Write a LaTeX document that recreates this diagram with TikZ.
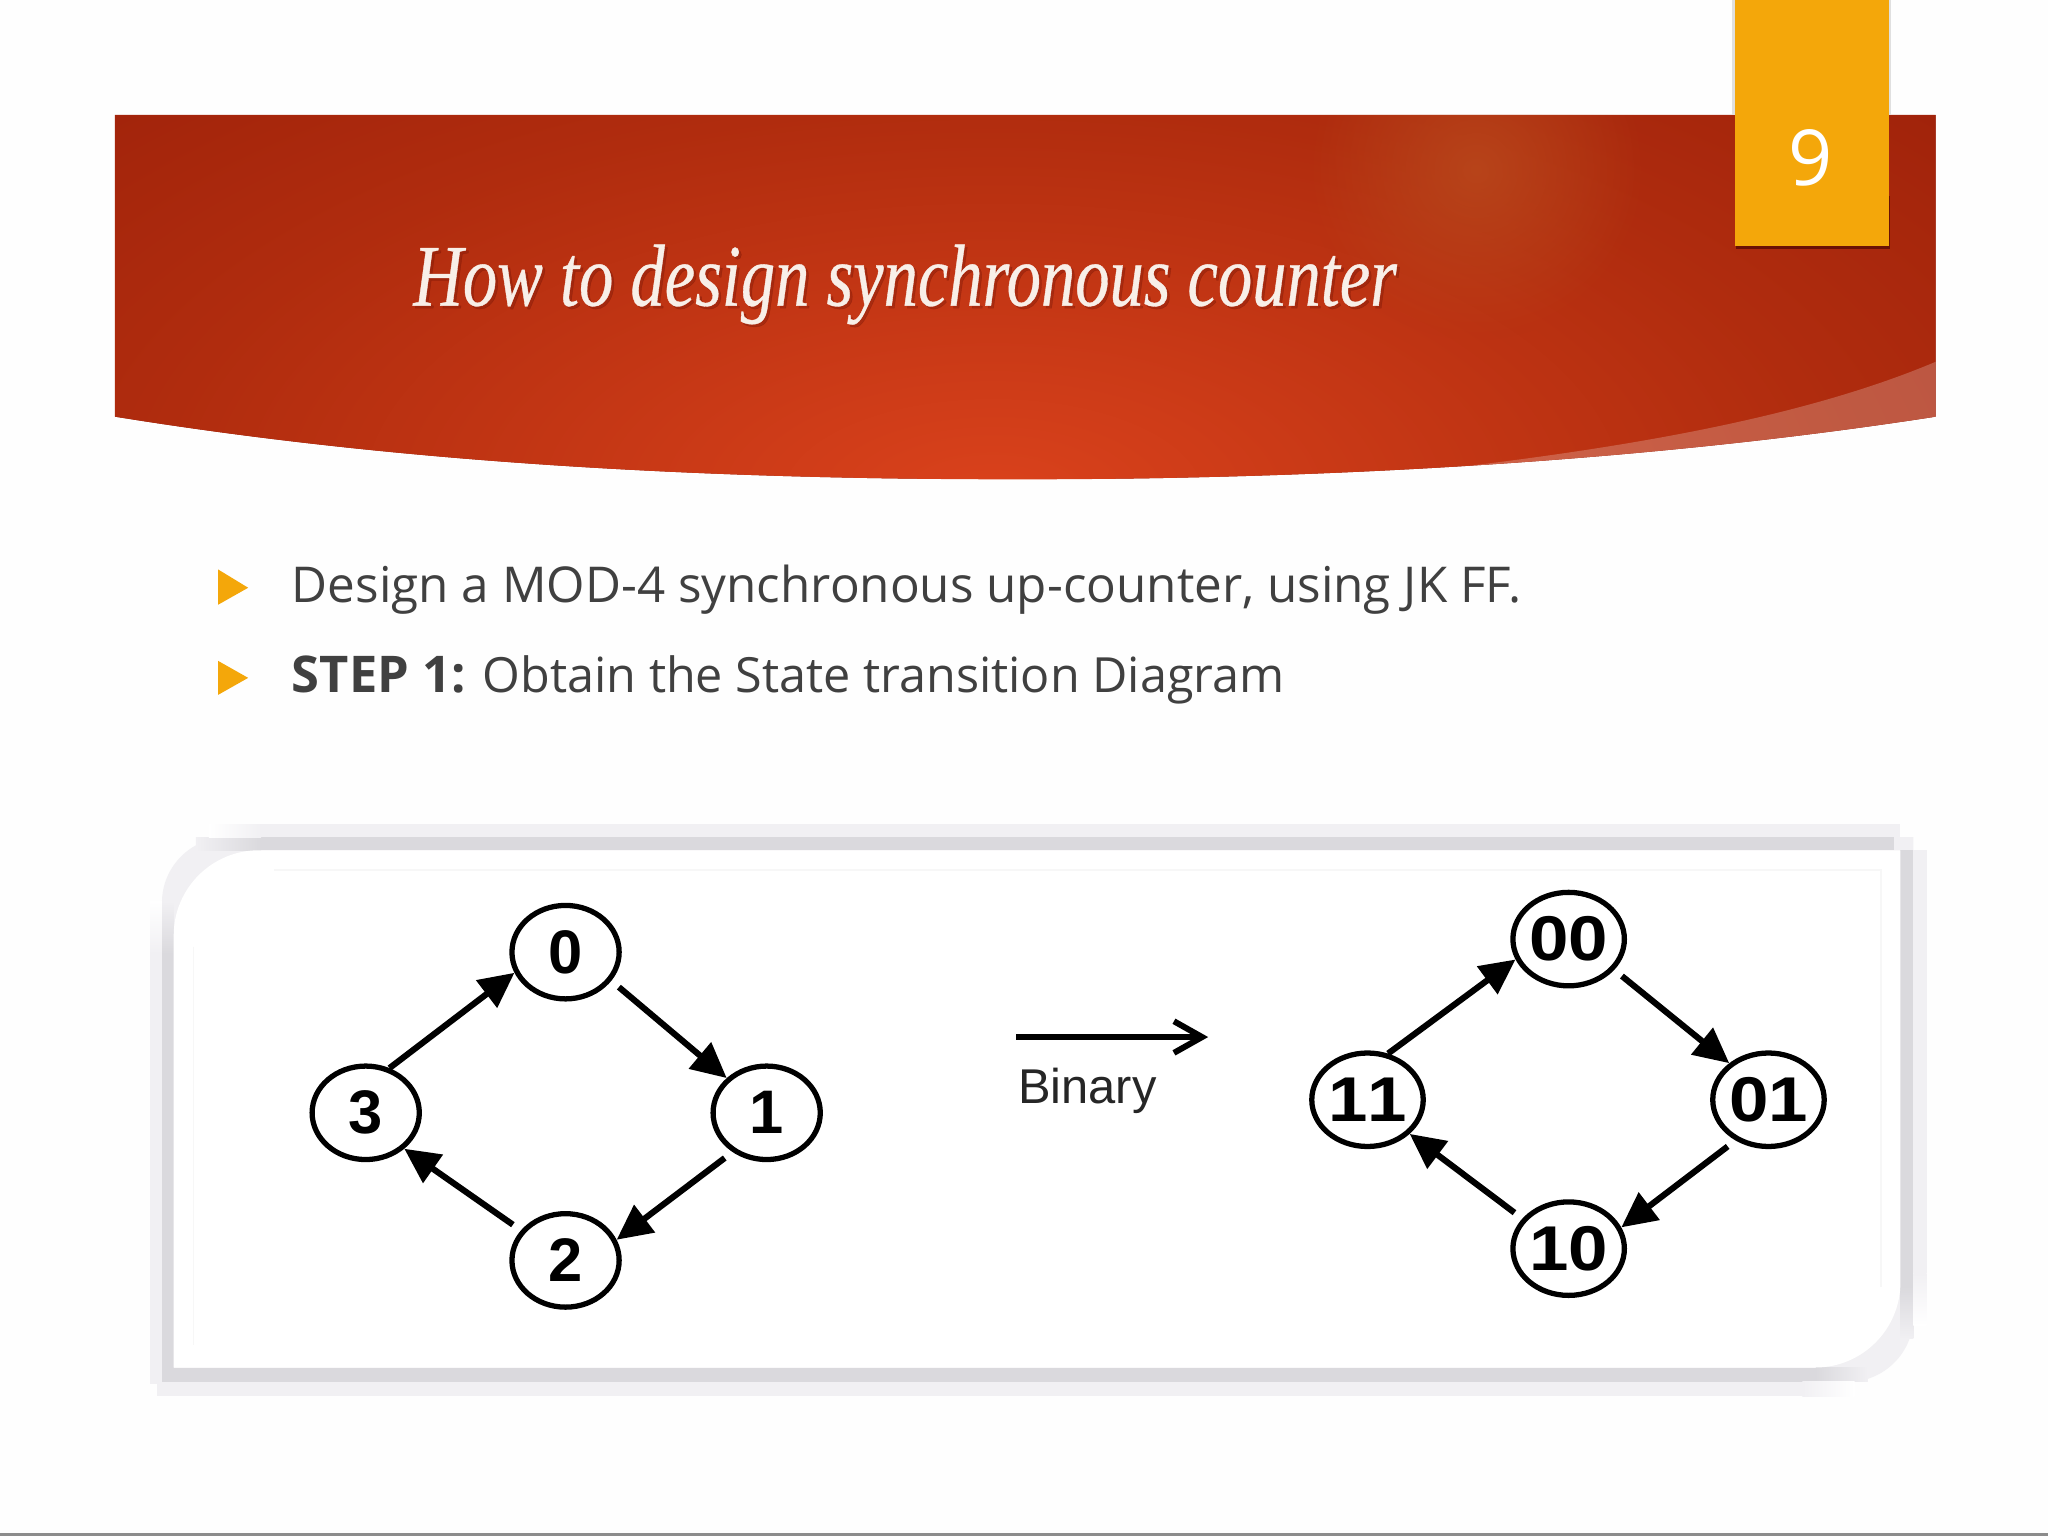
\documentclass[tikz,border=0pt]{standalone}
\usepackage{fontspec}
\setmainfont{Open Sans}
\newfontfamily\titlefont[FakeStretch=0.78,FakeBold=0.4]{Liberation Serif}
\newfontfamily\diagfont{Liberation Sans}
\newfontfamily\widefont[FakeStretch=1.12,Kerning=Off]{Liberation Sans}
\usetikzlibrary{shapes.geometric,arrows.meta,fadings}
\definecolor{bodytext}{HTML}{404040}
\definecolor{accent}{HTML}{F4A70A}
\definecolor{darkred}{HTML}{8E1807}
\definecolor{midred}{HTML}{B02C0E}
\definecolor{hotred}{HTML}{DA421C}
\definecolor{glow}{HTML}{B9481C}
\definecolor{bandlight}{HTML}{F1F0F3}
\definecolor{banddark}{HTML}{DAD9DD}
\definecolor{pagebg}{HTML}{FEFEFE}
\definecolor{tabshadow}{HTML}{6A1005}
\definecolor{titleink}{HTML}{F8EFE8}
\definecolor{titleshade}{HTML}{6A1005}
\pgfdeclareradialshading{bannerglow}{\pgfpoint{0bp}{0bp}}{
  color(0bp)=(hotred);
  color(11bp)=(midred);
  color(23bp)=(darkred);
  color(50bp)=(darkred)}
\tikzfading[name=softglow, inner color=transparent!0, outer color=transparent!100]
\newcommand{\cardpath}[5]{(#1,#4) -- (#1,#2+#5) .. controls (#1,#2+0.45*#5) and (#1+0.45*#5,#2) .. (#1+#5,#2) -- (#3,#2) -- (#3,#4-#5) .. controls (#3,#4-0.45*#5) and (#3-0.45*#5,#4) .. (#3-#5,#4) -- cycle}
\newcommand{\bannerpath}{(88,88) -- (1482,88) -- (1482,319) .. controls (1250,355) and (1000,367) .. (780,367) .. controls (500,367) and (280,350) .. (88,319) -- cycle}
\tikzset{
  x=0.0130612cm, y=-0.0130612cm,
  statenode/.style={ellipse, draw=black, line width=1.5pt, fill=white, minimum width=30.5pt, minimum height=26.6pt, inner sep=0pt, font=\diagfont\bfseries\fontsize{17.5}{20}\selectfont},
  widenode/.style={statenode, font=\widefont\bfseries\fontsize{18}{20}\selectfont},
  flow/.style={line width=1.75pt, -{Triangle[length=10pt,width=9.5pt]}},
  gapflow/.style={flow, shorten <=2.8pt},
  bodyline/.style={anchor=base west, inner sep=0pt, text=bodytext, font=\fontsize{14.05}{17}\selectfont},
  bullet/.style={fill=accent},
}
\begin{document}
\begin{tikzpicture}
\useasboundingbox (0,0) rectangle (1568,1176);
\fill[pagebg] (0,0) rectangle (1568,1176);
\fill[black!45] (0,1174) rectangle (1568,1176);
% banner
\begin{scope}
  \clip \bannerpath;
  \fill[darkred] (88,88) rectangle (1482,367);
  \shade[shading=bannerglow] (-700,-300) rectangle (2220,1060);
  \fill[glow, path fading=softglow, opacity=0.85] (1000,0) rectangle (1260,260);
  \fill[white, opacity=0.22] (1482,277) .. controls (1380,320) and (1240,345) .. (1060,364) -- (1060,400) -- (1482,400) -- cycle;
\end{scope}
% tab
\fill[tabshadow] (1329,150) rectangle (1447,191);
\fill[black!12] (1326,0) rectangle (1328,88);
\fill[black!12] (1446,0) rectangle (1448,88);
\fill[accent] (1328,0) rectangle (1446,188);
\node[text=white, inner sep=0pt, font=\fontsize{22}{26}\selectfont] (pagenum) at (1386,121) {9};
% title
\node[anchor=base west, inner sep=0pt, text=titleshade, opacity=0.3, font=\titlefont\itshape\fontsize{25}{28}\selectfont] (titleshadow) at (318,236) {How to design synchronous counter};
\node[anchor=base west, inner sep=0pt, text=titleink, font=\titlefont\itshape\fontsize{25}{28}\selectfont] (title) at (316,234) {How to design synchronous counter};
% bullets
\fill[bullet] (167,436) -- (190,450) -- (167,463) -- cycle;
\fill[bullet] (167,506) -- (190,519) -- (167,532) -- cycle;
\node[bodyline] (line1) at (223,461) {Design a MOD-4 synchronous up-counter, using JK FF.};
\node[bodyline] (line2) at (223,530) {{\fontsize{14.4}{17}\selectfont\textbf{STEP 1:}} {\fontsize{13.8}{17}\selectfont Obtain the State transition Diagram}};
% card shadow
\fill[bandlight] \cardpath{124}{641}{1465}{1058}{50};
\fill[bandlight] (200,631) rectangle (1455,641);
\fill[banddark] (200,641) rectangle (1450,651);
\shade[left color=bandlight, right color=banddark] (150,641) rectangle (200,651);
\shade[left color=white, right color=bandlight] (160,631) rectangle (200,641);
\fill[bandlight] (115,730) rectangle (124,1060);
\fill[banddark] (124,730) rectangle (133,1058);
\shade[top color=bandlight, bottom color=banddark] (124,690) rectangle (133,730);
\shade[top color=white, bottom color=bandlight] (115,690) rectangle (124,730);
\fill[banddark] (133,1047) rectangle (1390,1058);
\fill[bandlight] (120,1058) rectangle (1380,1069);
\shade[left color=banddark, right color=bandlight] (1390,1047) rectangle (1430,1058);
\shade[left color=bandlight, right color=white] (1380,1058) rectangle (1420,1069);
\fill[banddark] (1455,651) rectangle (1465,985);
\fill[bandlight] (1465,651) rectangle (1475,975);
\shade[top color=banddark, bottom color=bandlight] (1455,985) rectangle (1465,1025);
\shade[top color=bandlight, bottom color=white] (1465,975) rectangle (1475,1015);
\fill[white] \cardpath{133}{651}{1455}{1047}{65};
\draw[black!3, line width=0.4pt] (148,725) -- (148,1030);
\draw[black!3, line width=0.4pt] (210,666) -- (1440,666) -- (1440,985);
% left diagram
\node[statenode] (n0) at (433,729) {0};
\node[statenode] (n1) at (587,852) {1};
\node[statenode] (n2) at (433,965) {2};
\node[statenode] (n3) at (280,852) {3};
\draw[flow] (n3.62) -- (n0.202);
\draw[gapflow] (n0.-32) -- (n1.139);
\draw[gapflow] (n1.-131) -- (n2.22);
\draw[gapflow] (n2.146) -- (n3.-43);
% arrow
\coordinate (binstart) at (778,794);
\coordinate (binend) at (925,794);
\draw[line width=1.7pt, -{Straight Barb[length=8pt,width=9pt,line width=1.7pt]}] (binstart) -- (binend);
\node[anchor=base west, inner sep=0pt, text=black!85, font=\diagfont\fontsize{13.9}{15}\selectfont] (binlabel) at (779,845) {Binary};
% right diagram
\node[widenode] (b00) at (1201,719) {00};
\node[widenode] (b01) at (1354,842) {01};
\node[widenode] (b10) at (1201,956) {10};
\node[widenode] (b11) at (1047,842) {11};
\draw[flow] (b11.66) -- (b00.201);
\draw[gapflow] (b00.-34) -- (b01.137);
\draw[gapflow] (b01.-129) -- (b10.22);
\draw[gapflow] (b10.147) -- (b11.-39);
\end{tikzpicture}
\end{document}
